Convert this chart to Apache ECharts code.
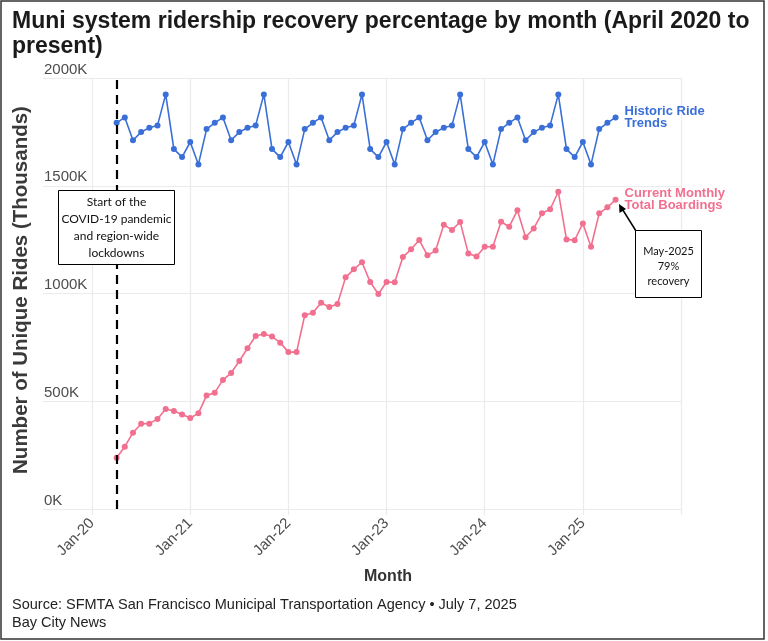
<!DOCTYPE html>
<html>
<head>
<meta charset="utf-8">
<script src="https://cdn.jsdelivr.net/npm/echarts@6/dist/echarts.min.js"></script>
<style>
  html, body { margin: 0; padding: 0; background: #fff; }
  #chart { width: 768px; height: 641px; }
</style>
</head>
<body>
<div id="chart"></div>
<script>
// axis runs Jul 2019 .. Jan 2026, data runs Apr 2020 .. May 2025
const pad = (n) => (n < 10 ? "0" + n : "" + n);
const monthRange = (y0, m0, y1, m1) => {
  const out = [];
  let y = y0, m = m0;
  while (y < y1 || (y === y1 && m <= m1)) {
    out.push(y + "-" + pad(m));
    m++;
    if (m > 12) { m = 1; y++; }
  }
  return out;
};
const axisMonths = monthRange(2019, 7, 2026, 1);
const dataMonths = monthRange(2020, 4, 2025, 5);

// thousands of rides
const historicRides = [
  1792, 1817, 1711, 1749, 1769, 1780, 1924, 1670, 1633,
  1703, 1599, 1763, 1792, 1817, 1711, 1749, 1769, 1780, 1924, 1670, 1633,
  1703, 1599, 1763, 1792, 1817, 1711, 1749, 1769, 1780, 1924, 1670, 1633,
  1703, 1599, 1763, 1792, 1817, 1711, 1749, 1769, 1780, 1924, 1670, 1633,
  1703, 1599, 1763, 1792, 1817, 1711, 1749, 1769, 1780, 1924, 1670, 1633,
  1703, 1599, 1763, 1792, 1817
];
const currentBoardings = [
  238, 289, 354, 396, 396, 418, 464, 455, 439,
  422, 444, 527, 540, 599, 631, 687, 746, 803, 812, 800, 772,
  728, 728, 899, 911, 957, 937, 951, 1075, 1112, 1145, 1053, 998,
  1053, 1052, 1169, 1205, 1248, 1177, 1199, 1319, 1295, 1332, 1186, 1172,
  1217, 1217, 1333, 1310, 1386, 1261, 1302, 1372, 1391, 1472, 1251, 1247,
  1325, 1217, 1372, 1400, 1435
];
const yTicks = [0, 500, 1000, 1500, 2000];

const BLUE = "#3A6FD8";
const PINK = "#F2708F";
const GRID = "#EBEBEB";
const AXIS_TXT = "#4D4D4D";

const isJan = (v) => v.slice(5) === "01";

const chart = echarts.init(document.getElementById("chart"), null, { renderer: "canvas" });

chart.setOption({
  animation: false,
  backgroundColor: "#fff",
  title: {
    text: "Muni system ridership recovery percentage by month (April 2020 to\npresent)",
    left: 12,
    top: 9,
    padding: 0,
    textStyle: { fontFamily: "Liberation Sans", fontSize: 23, fontWeight: "bold", color: "#1A1A1A", lineHeight: 25 }
  },
  grid: { left: 43, right: 87, top: 78, bottom: 132, containLabel: false },
  xAxis: {
    type: "category",
    data: axisMonths,
    boundaryGap: false,
    axisLine: { show: false },
    axisTick: { show: true, length: 6, interval: (i, v) => isJan(v), lineStyle: { color: GRID, width: 1.2 } },
    axisLabel: {
      interval: (i, v) => isJan(v) && v < "2026",
      formatter: (v) => "Jan-" + v.slice(2, 4),
      rotate: 45,
      margin: 12,
      fontFamily: "Liberation Sans",
      fontSize: 15,
      color: AXIS_TXT
    },
    splitLine: { show: true, interval: (i, v) => isJan(v), lineStyle: { color: GRID, width: 1.2 } }
  },
  yAxis: {
    type: "value",
    min: yTicks[0],
    max: yTicks[yTicks.length - 1],
    interval: 500,
    axisLine: { show: false },
    axisTick: { show: false },
    axisLabel: {
      inside: true,
      margin: 1,
      verticalAlign: "bottom",
      padding: [0, 0, 1, 0],
      formatter: (v) => v + "K",
      fontFamily: "Liberation Sans",
      fontSize: 15,
      color: AXIS_TXT
    },
    splitLine: { lineStyle: { color: GRID, width: 1.2 } }
  },
  series: [
    {
      name: "Historic Ride Trends",
      type: "line",
      data: dataMonths.map((m, i) => [m, historicRides[i]]),
      symbol: "circle",
      symbolSize: 6,
      showAllSymbol: true,
      lineStyle: { color: BLUE, width: 1.6 },
      itemStyle: { color: BLUE },
      endLabel: {
        show: true,
        distance: 9,
        formatter: "Historic Ride\nTrends",
        fontFamily: "Liberation Sans",
        fontSize: 13,
        fontWeight: "bold",
        lineHeight: 12,
        color: BLUE
      },
      z: 3
    },
    {
      name: "Current Monthly Total Boardings",
      type: "line",
      data: dataMonths.map((m, i) => [m, currentBoardings[i]]),
      symbol: "circle",
      symbolSize: 6,
      showAllSymbol: true,
      lineStyle: { color: PINK, width: 1.6 },
      itemStyle: { color: PINK },
      endLabel: {
        show: true,
        distance: 9,
        formatter: "Current Monthly\nTotal Boardings",
        fontFamily: "Liberation Sans",
        fontSize: 13,
        fontWeight: "bold",
        lineHeight: 12,
        color: PINK
      },
      markLine: {
        silent: true,
        symbol: "none",
        label: { show: false },
        lineStyle: { color: "#000", type: [9, 6], width: 2.2 },
        data: [{ xAxis: "2020-04" }]
      },
      z: 3
    }
  ],
  graphic: [
    // frame
    { type: "rect", z: 100, shape: { x: 1, y: 1, width: 763, height: 638 }, style: { fill: null, stroke: "#333", lineWidth: 1.5 } },
    // axis titles
    {
      type: "text", x: 21, y: 290, rotation: Math.PI / 2,
      style: { text: "Number of Unique Rides (Thousands)", fontFamily: "Liberation Sans", fontSize: 20.5, fontWeight: "bold", fill: "#3A3A3A", align: "center", verticalAlign: "middle" }
    },
    {
      type: "text", x: 388, y: 577,
      style: { text: "Month", fontFamily: "Liberation Sans", fontSize: 16, fontWeight: "bold", fill: "#333", align: "center", verticalAlign: "middle" }
    },
    // source
    {
      type: "text", x: 12, y: 596,
      style: { text: "Source: SFMTA San Francisco Municipal Transportation Agency \u2022 July 7, 2025\nBay City News", fontFamily: "Liberation Sans", fontSize: 14.5, lineHeight: 18, fill: "#222", align: "left", verticalAlign: "top" }
    },
    // pandemic note
    { type: "rect", z: 100, shape: { x: 58.5, y: 190.5, width: 116, height: 74 }, style: { fill: "#fff", stroke: "#000", lineWidth: 1 } },
    {
      type: "text", z: 101, x: 116.5, y: 228,
      style: { text: "Start of the\nCOVID-19 pandemic\nand region-wide\nlockdowns", fontFamily: "Lato", fontSize: 12, lineHeight: 17, fill: "#111", align: "center", verticalAlign: "middle" }
    },
    // May-2025 note with arrow
    { type: "line", z: 100, shape: { x1: 636, y1: 231, x2: 621, y2: 207 }, style: { stroke: "#000", lineWidth: 1.5 } },
    { type: "polygon", z: 100, shape: { points: [[619, 204], [619.5, 213], [626, 209]] }, style: { fill: "#000" } },
    { type: "rect", z: 100, shape: { x: 635.5, y: 230.5, width: 66, height: 67 }, style: { fill: "#fff", stroke: "#000", lineWidth: 1 } },
    {
      type: "text", z: 101, x: 668.5, y: 266,
      style: { text: "May-2025\n79%\nrecovery", fontFamily: "Lato", fontSize: 11, lineHeight: 15, fill: "#111", align: "center", verticalAlign: "middle" }
    }
  ]
});
</script>
</body>
</html>
